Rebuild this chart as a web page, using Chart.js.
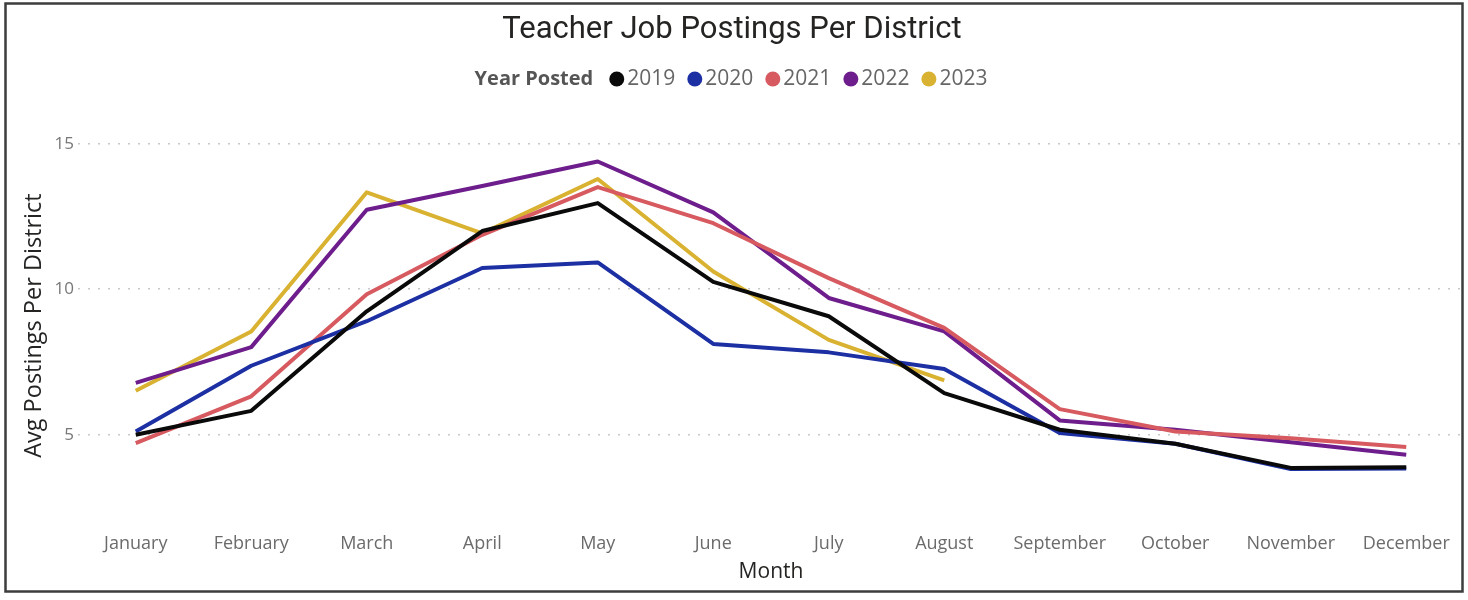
<!DOCTYPE html>
<html>
<head>
<meta charset="utf-8">
<script src="https://cdn.jsdelivr.net/npm/chart.js@4.4.1/dist/chart.umd.min.js"></script>
<style>
  html, body { margin: 0; padding: 0; background: #ffffff; }
  #wrap { position: relative; width: 1468px; height: 600px; }
</style>
</head>
<body>
<div id="wrap"><canvas id="c" width="1468" height="600"></canvas></div>
<script>
const months = ["January","February","March","April","May","June","July","August","September","October","November","December"];
const years = ["2019","2020","2021","2022","2023"];
const colors = ["#0a0a0a","#1c2fa3","#d65a5f","#6e1d8c","#d9b232"];
const y2019 = [5.00, 5.82, 9.24, 12.00, 12.96, 10.25, 9.07, 6.43, 5.17, 4.69, 3.86, 3.88];
const y2020 = [5.11, 7.37, 8.90, 10.73, 10.92, 8.12, 7.83, 7.26, 5.06, 4.69, 3.82, 3.84];
const y2021 = [4.71, 6.32, 9.83, 11.87, 13.51, 12.27, 10.38, 8.67, 5.88, 5.11, 4.88, 4.58];
const y2022 = [6.78, 8.01, 12.73, 13.55, 14.39, 12.64, 9.70, 8.55, 5.49, 5.17, 4.74, 4.31];
const y2023 = [6.51, 8.55, 13.33, 11.92, 13.79, 10.61, 8.26, 6.87, null, null, null, null];
const yTicks = [5, 10, 15];
const seriesValues = [y2019, y2020, y2021, y2022, y2023];

const legendPlugin = {
  id: 'customLegend',
  afterDraw(chart) {
    const ctx = chart.ctx;
    ctx.save();
    const cy = 79;
    const boldFont = "bold 20px 'Open Sans'";
    const itemFont = "21px 'Open Sans'";
    ctx.font = boldFont;
    const headW = ctx.measureText("Year Posted").width;
    ctx.font = itemFont;
    const r = 7.5, gapHead = 16, gapText = 3, gapItem = 12;
    let total = headW + gapHead;
    const widths = years.map(y => ctx.measureText(y).width);
    widths.forEach((w, i) => { total += 2 * r + gapText + w + (i < widths.length - 1 ? gapItem : 0); });
    let x = 731 - total / 2;
    ctx.textBaseline = 'middle';
    ctx.textAlign = 'left';
    ctx.font = boldFont;
    ctx.fillStyle = '#555555';
    ctx.fillText("Year Posted", x, cy);
    x += headW + gapHead;
    ctx.font = itemFont;
    years.forEach((y, i) => {
      ctx.beginPath();
      ctx.arc(x + r, cy, r, 0, Math.PI * 2);
      ctx.fillStyle = colors[i];
      ctx.fill();
      x += 2 * r + gapText;
      ctx.fillStyle = '#666666';
      ctx.fillText(y, x, cy);
      x += widths[i] + gapItem;
    });
    // frame
    ctx.strokeStyle = '#3d3d3d';
    ctx.lineWidth = 2.5;
    ctx.strokeRect(5.5, 3.5, 1457, 588);
    ctx.restore();
  }
};

new Chart(document.getElementById('c'), {
  type: 'line',
  data: {
    labels: months,
    datasets: years.map((y, i) => ({
      label: y,
      data: seriesValues[i],
      borderColor: colors[i],
      backgroundColor: colors[i],
      borderWidth: 4,
      pointRadius: 0,
      tension: 0,
      spanGaps: false,
      borderJoinStyle: 'round',
      borderCapStyle: 'butt'
    }))
  },
  options: {
    responsive: false,
    animation: false,
    layout: { padding: { left: 0, right: 4, top: 0, bottom: 0 } },
    plugins: {
      legend: { display: false },
      tooltip: { enabled: false },
      title: {
        display: true,
        text: 'Teacher Job Postings Per District',
        color: '#252423',
        font: { family: 'Roboto', size: 31, weight: 'normal' },
        padding: { top: 12, bottom: 80 }
      }
    },
    scales: {
      x: {
        offset: true,
        grid: { display: false, drawTicks: false },
        border: { display: false },
        ticks: { color: '#6b6b6b', font: { family: 'Open Sans', size: 18 }, padding: 11, maxRotation: 0, autoSkip: false },
        title: { display: true, text: 'Month', color: '#252423', font: { family: 'Open Sans', size: 21 }, padding: { top: 15, bottom: 15 } },
        afterFit(scale) { scale.height = 78; }
      },
      y: {
        min: 2,
        max: 15.5,
        afterBuildTicks(scale) { scale.ticks = yTicks.map(v => ({ value: v })); },
        grid: { color: '#c8c8c8', lineWidth: 1.5, drawTicks: false },
        border: { display: false, dash: [2, 8] },
        ticks: { color: '#777777', font: { family: 'Open Sans', size: 17 }, padding: 4 },
        title: { display: true, text: 'Avg Postings Per District', color: '#252423', font: { family: 'Open Sans', size: 23.5 }, padding: { top: 20, bottom: 20 } },
        afterFit(scale) { scale.width = 78; }
      }
    }
  },
  plugins: [legendPlugin]
});
</script>
</body>
</html>
